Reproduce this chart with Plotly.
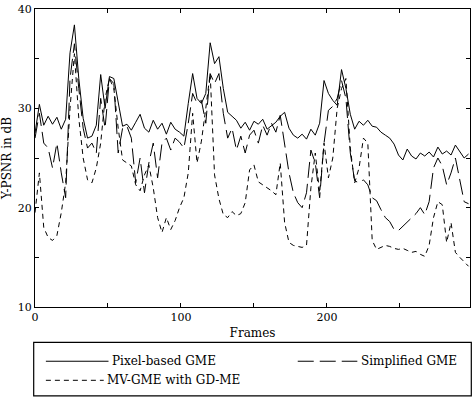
import plotly.graph_objects as go

frames = list(range(0, 300, 3))

pixel_gme = [
    27.5, 30.4, 28.3, 29.2, 28.4, 29.1, 27.9, 28.9, 35.6, 38.4,
    33.0, 29.0, 27.0, 27.2, 28.3, 33.4, 30.0, 33.2, 33.0, 30.5,
    28.2, 28.4, 27.8, 28.6, 29.4, 28.0, 27.6, 28.8, 27.9, 28.5,
    27.4, 28.6, 27.9, 27.6, 27.2, 30.5, 33.5, 31.0, 30.5, 31.5,
    36.6, 34.5, 35.2, 32.0, 29.6, 29.2, 28.8, 28.0, 28.6, 27.8,
    28.7, 28.4, 28.9, 27.9, 28.3, 28.6, 29.2, 29.6, 28.0, 27.3,
    27.0, 27.4, 26.9, 27.9, 27.3, 28.5, 32.8, 31.5, 30.8, 30.3,
    33.9, 32.0, 29.4, 27.9, 28.7, 28.3, 28.8, 28.2, 28.1, 27.6,
    27.3, 27.0, 26.4, 25.3, 24.8, 25.9, 25.2, 24.9, 25.5, 25.2,
    25.6, 25.1, 26.1, 25.4, 25.7, 25.3, 26.3, 25.7, 25.0, 25.4,
]

simplified_gme = [
    27.0, 29.5, 26.5, 26.0, 24.0, 26.5, 23.5, 21.0, 33.0, 36.5,
    32.0, 28.0, 26.0, 26.5, 25.5, 31.0, 28.0, 33.0, 32.5, 25.5,
    28.0, 28.2, 27.0, 22.5, 25.0, 21.5, 24.5, 26.5, 23.0, 26.5,
    27.0, 25.8, 27.0, 26.6, 26.0, 28.5, 31.5, 30.5, 30.8, 28.5,
    33.5, 32.5, 33.5, 29.5, 27.0, 28.0, 25.8, 27.2, 25.5, 27.3,
    27.8, 26.5, 28.3, 27.3, 28.5, 27.6, 29.3, 26.5, 23.5, 21.5,
    20.5, 20.0, 21.5, 25.8, 24.5, 21.0, 26.5, 29.8, 30.2, 31.0,
    32.8, 31.0, 25.5, 22.7, 22.5, 22.8, 22.3, 21.0, 20.7, 19.8,
    19.0, 18.6, 17.8, 17.7, 18.1, 18.6, 19.0, 19.4, 20.0, 19.3,
    20.6, 24.0, 25.0, 24.2, 22.3, 23.5, 25.0, 22.6, 20.6, 20.4,
]

mv_gme_gdme = [
    19.5, 23.5, 18.0, 17.0, 16.7, 17.2, 19.5, 22.5, 30.0, 35.5,
    29.0, 25.0, 22.8, 22.5, 24.0, 26.5, 31.0, 33.0, 32.0, 28.0,
    24.8, 24.5, 24.2, 22.3, 21.7, 23.3, 24.3, 22.0, 19.0, 17.5,
    19.0, 17.8, 18.7, 20.0, 21.0, 23.5, 29.5, 24.5, 26.7, 30.0,
    33.5, 23.3, 20.9, 19.3, 19.0, 19.6, 19.2, 19.4, 20.5, 23.8,
    24.3, 22.6, 22.3, 22.0, 21.7, 21.3, 24.5, 18.5, 16.5, 16.2,
    16.1, 16.0, 16.2, 22.0, 25.5, 21.5, 26.5, 23.0, 25.0, 30.0,
    32.0, 33.0, 26.0, 22.5, 24.0, 27.0, 26.5, 16.7, 15.8, 16.0,
    16.2, 16.1, 15.9, 15.8, 15.9, 15.7, 15.5, 15.6, 15.3, 15.1,
    16.2, 19.0, 20.6, 20.3, 16.5, 18.5, 15.5, 15.0, 14.6, 14.1,
]

x_tickvals = [0, 50, 100, 150, 200, 250]
x_ticktext = ["0", "", "100", "", "200", ""]
y_tickvals = [10, 15, 20, 25, 30, 35, 40]
y_ticktext = ["10", "", "20", "", "30", "", "40"]

series_names = ["Pixel-based GME", "Simplified GME", "MV-GME with GD-ME"]
series_dash = ["solid", "16px,6px", "5px,4px"]
series_values = [pixel_gme, simplified_gme, mv_gme_gdme]

FONT = "DejaVu Serif"

fig = go.Figure()
for name, vals, dash in zip(series_names, series_values, series_dash):
    fig.add_trace(go.Scatter(
        x=frames, y=vals, mode="lines", name=name,
        line=dict(color="black", width=1, dash=dash),
        showlegend=False,
    ))

# Manual legend box (positions in paper coordinates)
shapes = [dict(type="rect", xref="paper", yref="paper",
               x0=-0.003, x1=1.003, y0=-0.298, y1=-0.119,
               line=dict(color="black", width=1.2), fillcolor="white")]
legend_pos = [
    (0.025, 0.169, -0.182),
    (0.604, 0.741, -0.182),
    (0.025, 0.158, -0.246),
]
annotations = []
for (x0, x1, y), name, dash in zip(legend_pos, series_names, series_dash):
    shapes.append(dict(type="line", xref="paper", yref="paper",
                       x0=x0, x1=x1, y0=y, y1=y,
                       line=dict(color="black", width=1, dash=dash)))
    annotations.append(dict(xref="paper", yref="paper", x=x1 + 0.004, y=y,
                            xanchor="left", yanchor="middle", showarrow=False,
                            text=name, font=dict(family=FONT, size=12, color="black")))

fig.update_layout(
    width=474, height=398, autosize=False,
    margin=dict(l=34, r=3, t=5, b=91),
    paper_bgcolor="white", plot_bgcolor="white",
    shapes=shapes, annotations=annotations,
    font=dict(family=FONT, size=11, color="black"),
)
fig.update_xaxes(
    range=[0, 298], tickvals=x_tickvals, ticktext=x_ticktext,
    ticks="inside", ticklen=4, tickcolor="black",
    showline=True, linecolor="black", linewidth=1, mirror="ticks",
    showgrid=False, zeroline=False, ticklabeloverflow="allow",
    title=dict(text="Frames", font=dict(family=FONT, size=12), standoff=5),
    tickfont=dict(family=FONT, size=11),
)
fig.update_yaxes(
    range=[10, 40], tickvals=y_tickvals, ticktext=y_ticktext,
    ticks="inside", ticklen=4, tickcolor="black",
    showline=True, linecolor="black", linewidth=1, mirror="ticks",
    showgrid=False, zeroline=False, ticklabeloverflow="allow",
    title=dict(text="Y-PSNR in dB", font=dict(family=FONT, size=12), standoff=6),
    tickfont=dict(family=FONT, size=11),
)

fig.write_html(
    "out.html",
    config={"displayModeBar": False},
    post_script="document.body.style.margin='0';document.body.style.overflow='hidden';",
)
